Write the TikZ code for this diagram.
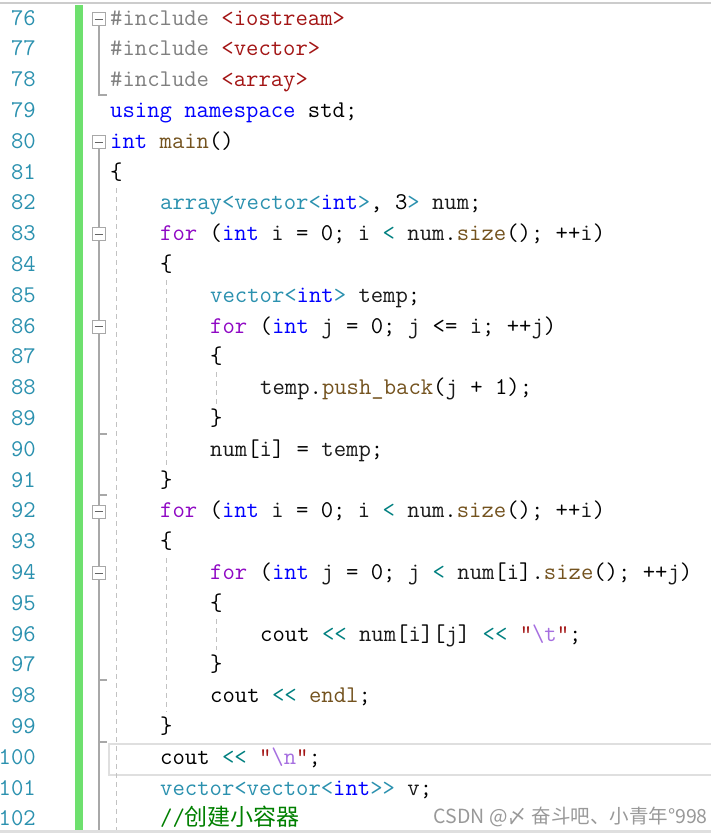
\documentclass[tikz,border=0pt]{standalone}
\usepackage{fontspec}
\setmonofont{Latin Modern Mono}
\newfontfamily\cjk{Noto Sans CJK SC}
\definecolor{kwc}{HTML}{0000FF}
\definecolor{ctlc}{HTML}{8F08C4}
\definecolor{tyc}{HTML}{2B91AF}
\definecolor{ppc}{HTML}{808080}
\definecolor{incc}{HTML}{A31515}
\definecolor{fnc}{HTML}{74531F}
\definecolor{varc}{HTML}{1A1A1A}
\definecolor{opc}{HTML}{008080}
\definecolor{escc}{HTML}{A66FE0}
\definecolor{cmc}{HTML}{008000}
\definecolor{lnc}{HTML}{2B91AF}
\definecolor{barc}{HTML}{6EE06E}
\definecolor{guide}{HTML}{A8A8A8}
\newcommand\cK[1]{\textcolor{kwc}{#1}}
\newcommand\cC[1]{\textcolor{ctlc}{#1}}
\newcommand\cT[1]{\textcolor{tyc}{#1}}
\newcommand\cP[1]{\textcolor{ppc}{#1}}
\newcommand\cI[1]{\textcolor{incc}{#1}}
\newcommand\cF[1]{\textcolor{fnc}{#1}}
\newcommand\cV[1]{\textcolor{varc}{#1}}
\newcommand\cO[1]{\textcolor{opc}{#1}}
\newcommand\cE[1]{\textcolor{escc}{#1}}
\newcommand\cM[1]{\textcolor{cmc}{#1}}
\begin{document}
\begin{tikzpicture}[x=1pt,y=-1pt,
  code/.style={anchor=west,inner sep=0pt,text height=17pt,text depth=5pt,font=\fontsize{24}{26}\ttfamily},
  lnum/.style={anchor=east,inner sep=0pt,text height=17pt,text depth=5pt,text=lnc,font=\fontsize{24}{26}\ttfamily},
  foldbox/.style={draw=guide,line width=1pt,fill=white},
  foldline/.style={draw=guide,line width=1.5pt},
  dguide/.style={draw=guide!70,line width=1pt,dash pattern=on 5pt off 4pt}]
\useasboundingbox (0,0) rectangle (711,833);
\fill[white] (0,0) rectangle (711,833);
\draw[gray!40,line width=2pt] (0,3) -- (711,3);
\draw[gray!25,line width=3pt] (0,831) -- (711,831);
\fill[barc] (75,5) rectangle (83,830);
\draw[gray!25,line width=2pt] (109,744) rectangle (712,775);
\foreach \n [count=\k from 0] in {76,...,102}
  \node[lnum] (n\n) at (36,19+30.8*\k) {\n};
\draw[dguide] (116,188) -- (116,830);
\draw[dguide] (166,280) -- (166,465);
\draw[dguide] (166,558) -- (166,712);
\draw[dguide] (216,372) -- (216,404);
\draw[dguide] (216,619) -- (216,650);
\draw[foldline] (99,19) -- (99,95) -- (107,95);
\draw[foldline] (99,142) -- (99,830);
\draw[foldline] (99,434) -- (107,434);
\draw[foldline] (99,495) -- (107,495);
\draw[foldline] (99,680) -- (107,680);
\draw[foldline] (99,742) -- (107,742);
\foreach \y in {19,142,234.4,326.8,511.6,573.2}{
  \draw[foldbox] (92,\y-6.5) rectangle (105,\y+6.5);
  \draw[guide!60!black,line width=1pt] (94.5,\y) -- (102.5,\y);
}
\def\ya#1{19+30.8*(#1-76)}
\node[code] (l76) at (110,{\ya{76}}) {\cP{\#include} \cI{<iostream>}};
\node[code] (l77) at (110,{\ya{77}}) {\cP{\#include} \cI{<vector>}};
\node[code] (l78) at (110,{\ya{78}}) {\cP{\#include} \cI{<array>}};
\node[code] (l79) at (110,{\ya{79}}) {\cK{using} \cK{namespace} std;};
\node[code] (l80) at (110,{\ya{80}}) {\cK{int} \cF{main}()};
\node[code] (l81) at (110,{\ya{81}}) {\{};
\node[code] (l82) at (160,{\ya{82}}) {\cT{array<vector<}\cK{int}\cT{>}, 3\cT{>} \cV{num};};
\node[code] (l83) at (160,{\ya{83}}) {\cC{for} (\cK{int} \cV{i} = 0; \cV{i} \cO{<} \cV{num}.\cF{size}(); ++\cV{i})};
\node[code] (l84) at (160,{\ya{84}}) {\{};
\node[code] (l85) at (210,{\ya{85}}) {\cT{vector<}\cK{int}\cT{>} \cV{temp};};
\node[code] (l86) at (210,{\ya{86}}) {\cC{for} (\cK{int} \cV{j} = 0; \cV{j} <= \cV{i}; ++\cV{j})};
\node[code] (l87) at (210,{\ya{87}}) {\{};
\node[code] (l88) at (260,{\ya{88}}) {\cV{temp}.\cF{push\_back}(\cV{j} + 1);};
\node[code] (l89) at (210,{\ya{89}}) {\}};
\node[code] (l90) at (210,{\ya{90}}) {\cV{num}[\cV{i}] = \cV{temp};};
\node[code] (l91) at (160,{\ya{91}}) {\}};
\node[code] (l92) at (160,{\ya{92}}) {\cC{for} (\cK{int} \cV{i} = 0; \cV{i} \cO{<} \cV{num}.\cF{size}(); ++\cV{i})};
\node[code] (l93) at (160,{\ya{93}}) {\{};
\node[code] (l94) at (210,{\ya{94}}) {\cC{for} (\cK{int} \cV{j} = 0; \cV{j} \cO{<} \cV{num}[\cV{i}].\cF{size}(); ++\cV{j})};
\node[code] (l95) at (210,{\ya{95}}) {\{};
\node[code] (l96) at (260,{\ya{96}}) {cout \cO{<<} \cV{num}[\cV{i}][\cV{j}] \cO{<<} \cI{"}\cE{\textbackslash t}\cI{"};};
\node[code] (l97) at (210,{\ya{97}}) {\}};
\node[code] (l98) at (210,{\ya{98}}) {cout \cO{<<} \cF{endl};};
\node[code] (l99) at (160,{\ya{99}}) {\}};
\node[code] (l100) at (160,{\ya{100}}) {cout \cO{<<} \cI{"}\cE{\textbackslash n}\cI{"};};
\node[code] (l101) at (160,{\ya{101}}) {\cT{vector<vector<}\cK{int}\cT{>>} \cV{v};};
\node[code] (l102) at (160,{\ya{102}}) {\cM{//{\cjk\fontsize{23}{25}\selectfont 创建小容器}}};
\node[anchor=east,inner sep=0pt,text=gray!80,font={\cjk\fontsize{19.5}{21}\selectfont}] (wm) at (708,817) {CSDN @〆 奋斗吧、小青年°998};
\end{tikzpicture}
\end{document}
